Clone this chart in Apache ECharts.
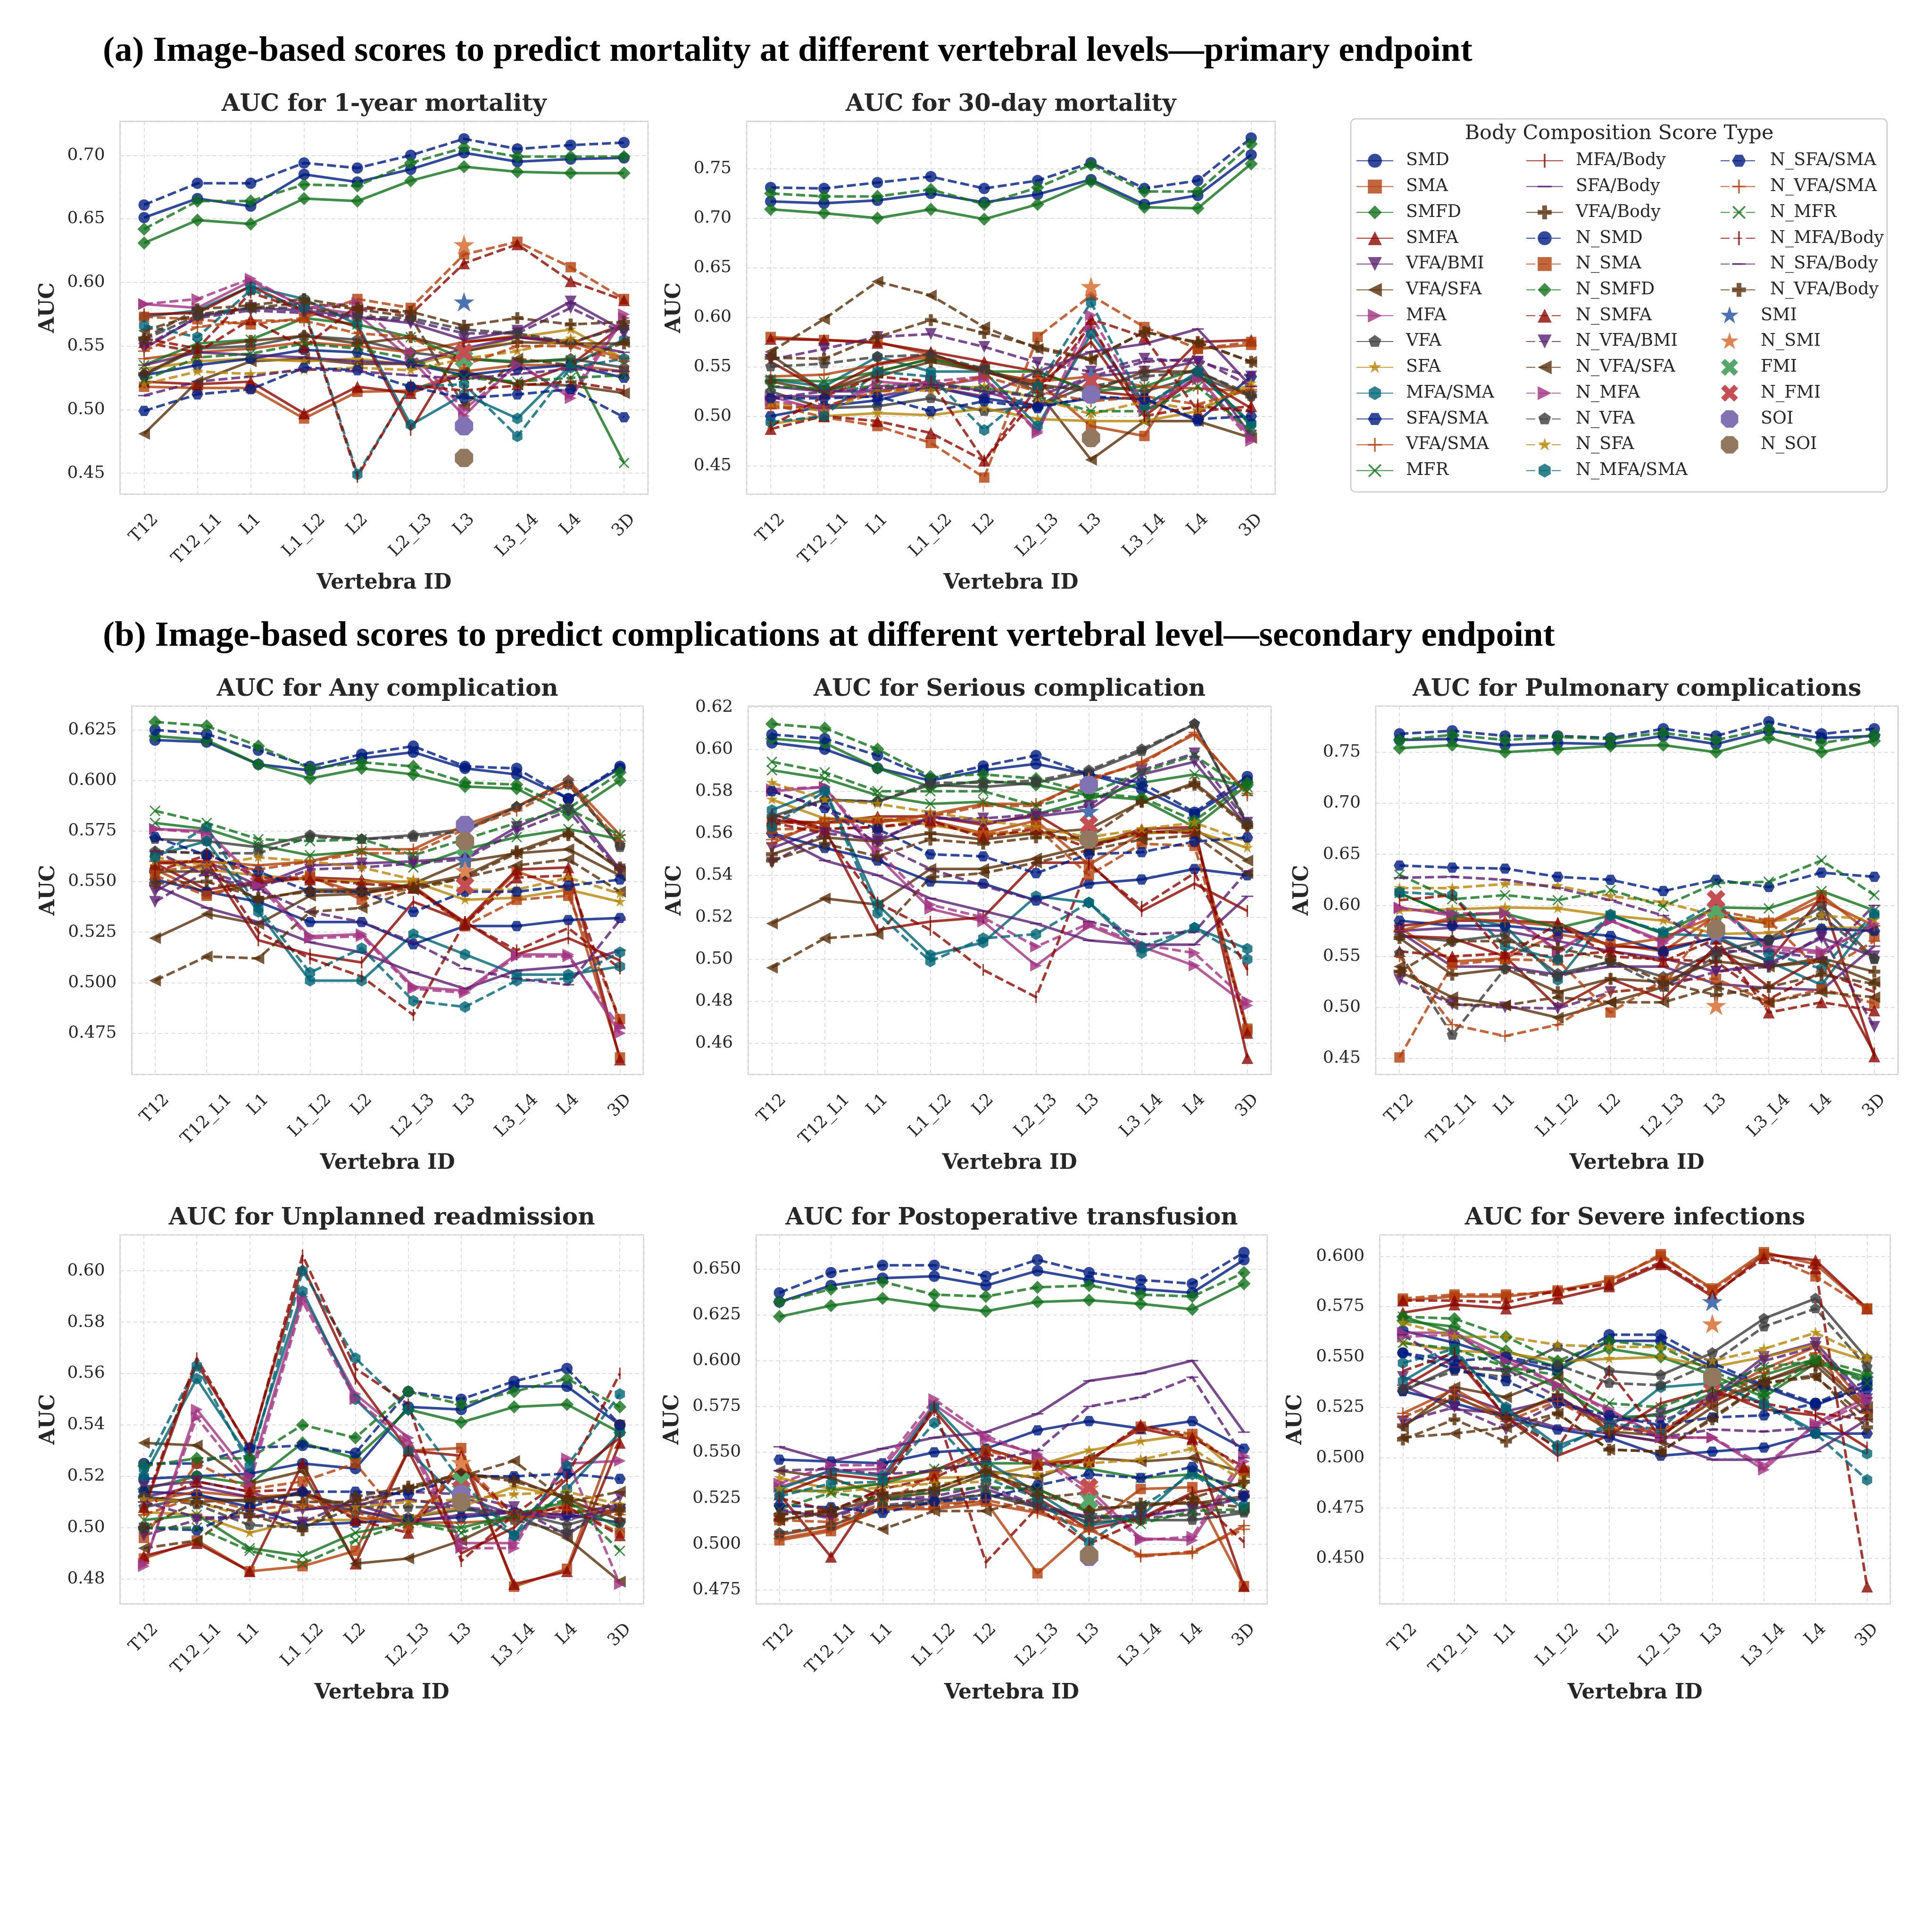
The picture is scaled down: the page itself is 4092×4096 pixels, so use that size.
<!DOCTYPE html>
<html><head><meta charset="utf-8">
<script src="https://cdn.jsdelivr.net/npm/echarts@6/dist/echarts.min.js"></script>
<style>html,body{margin:0;padding:0;background:#fff}#c{width:4092px;height:4096px}</style>
</head><body><div id="c"></div><script>
const vertebrae = ['T12','T12_L1','L1','L1_L2','L2','L2_L3','L3','L3_L4','L4','3D'];
const lineScores = ['SMD','SMA','SMFD','SMFA','VFA/BMI','VFA/SFA','MFA','VFA','SFA','MFA/SMA','SFA/SMA','VFA/SMA','MFR','MFA/Body','SFA/Body','VFA/Body',
  'N_SMD','N_SMA','N_SMFD','N_SMFA','N_VFA/BMI','N_VFA/SFA','N_MFA','N_VFA','N_SFA','N_MFA/SMA','N_SFA/SMA','N_VFA/SMA','N_MFR','N_MFA/Body','N_SFA/Body','N_VFA/Body'];
const pointScores = ['SMI','N_SMI','FMI','N_FMI','SOI','N_SOI'];
const pointLevel = 'L3';

// rows follow lineScores order, columns follow vertebrae order
const aucMort1y = [
[0.651,0.666,0.660,0.685,0.679,0.689,0.702,0.695,0.697,0.698],
[0.518,0.517,0.517,0.493,0.514,0.515,0.530,0.535,0.535,0.530],
[0.631,0.649,0.646,0.666,0.664,0.680,0.691,0.687,0.686,0.686],
[0.522,0.520,0.522,0.497,0.518,0.513,0.528,0.520,0.535,0.567],
[0.548,0.573,0.580,0.578,0.573,0.568,0.555,0.562,0.585,0.562],
[0.481,0.522,0.538,0.540,0.536,0.536,0.530,0.520,0.519,0.513],
[0.583,0.580,0.601,0.581,0.575,0.540,0.495,0.537,0.509,0.572],
[0.527,0.548,0.550,0.558,0.555,0.545,0.540,0.537,0.540,0.533],
[0.532,0.538,0.540,0.538,0.540,0.535,0.545,0.557,0.563,0.540],
[0.573,0.578,0.597,0.587,0.567,0.488,0.512,0.493,0.535,0.555],
[0.527,0.535,0.540,0.547,0.545,0.536,0.527,0.532,0.535,0.525],
[0.540,0.545,0.548,0.553,0.550,0.545,0.553,0.558,0.553,0.540],
[0.535,0.552,0.555,0.572,0.567,0.557,0.540,0.538,0.539,0.458],
[0.575,0.576,0.597,0.578,0.565,0.484,0.553,0.557,0.552,0.567],
[0.535,0.545,0.543,0.541,0.538,0.536,0.548,0.557,0.553,0.545],
[0.528,0.549,0.554,0.558,0.552,0.557,0.546,0.553,0.552,0.552],
[0.661,0.678,0.678,0.694,0.690,0.700,0.713,0.705,0.708,0.710],
[0.573,0.571,0.567,0.572,0.587,0.580,0.622,0.632,0.612,0.587],
[0.642,0.664,0.664,0.677,0.676,0.694,0.706,0.699,0.699,0.699],
[0.553,0.545,0.571,0.549,0.582,0.575,0.615,0.630,0.601,0.586],
[0.550,0.572,0.578,0.576,0.572,0.570,0.560,0.560,0.580,0.560],
[0.562,0.575,0.580,0.584,0.579,0.573,0.503,0.540,0.535,0.553],
[0.583,0.587,0.603,0.580,0.584,0.545,0.500,0.535,0.512,0.575],
[0.555,0.574,0.580,0.580,0.573,0.572,0.563,0.560,0.553,0.565],
[0.520,0.530,0.528,0.531,0.533,0.531,0.540,0.546,0.556,0.540],
[0.566,0.557,0.594,0.580,0.449,0.518,0.520,0.479,0.533,0.540],
[0.499,0.512,0.516,0.533,0.531,0.518,0.509,0.512,0.516,0.494],
[0.546,0.565,0.570,0.570,0.560,0.557,0.535,0.550,0.550,0.538],
[0.523,0.541,0.544,0.552,0.548,0.540,0.525,0.522,0.525,0.527],
[0.556,0.548,0.592,0.578,0.447,0.519,0.515,0.519,0.522,0.515],
[0.511,0.522,0.526,0.532,0.530,0.527,0.524,0.528,0.532,0.530],
[0.556,0.579,0.582,0.587,0.580,0.577,0.566,0.572,0.567,0.569]];
const ptMort1y = [0.584,0.629,0.540,0.545,0.487,0.462];

const aucMort30d = [
[0.717,0.715,0.718,0.725,0.716,0.724,0.739,0.714,0.723,0.764],
[0.580,0.577,0.575,0.562,0.545,0.535,0.490,0.480,0.568,0.572],
[0.709,0.705,0.700,0.709,0.699,0.714,0.737,0.711,0.710,0.755],
[0.578,0.577,0.574,0.565,0.555,0.545,0.525,0.520,0.575,0.577],
[0.530,0.525,0.525,0.535,0.525,0.510,0.540,0.545,0.555,0.480],
[0.562,0.525,0.545,0.558,0.548,0.525,0.456,0.495,0.495,0.478],
[0.520,0.505,0.535,0.530,0.538,0.485,0.590,0.505,0.540,0.478],
[0.525,0.508,0.510,0.518,0.505,0.510,0.532,0.525,0.540,0.520],
[0.492,0.500,0.503,0.501,0.508,0.497,0.495,0.495,0.505,0.530],
[0.537,0.530,0.560,0.545,0.545,0.490,0.583,0.510,0.543,0.493],
[0.500,0.510,0.516,0.530,0.518,0.510,0.518,0.518,0.495,0.540],
[0.540,0.542,0.552,0.560,0.545,0.535,0.540,0.530,0.528,0.525],
[0.537,0.535,0.545,0.558,0.545,0.545,0.525,0.530,0.548,0.490],
[0.555,0.525,0.553,0.563,0.545,0.530,0.575,0.500,0.540,0.508],
[0.520,0.520,0.520,0.530,0.520,0.545,0.565,0.573,0.588,0.530],
[0.535,0.525,0.540,0.555,0.545,0.532,0.525,0.545,0.545,0.520],
[0.731,0.730,0.736,0.742,0.730,0.738,0.756,0.730,0.738,0.781],
[0.512,0.499,0.490,0.473,0.438,0.580,0.622,0.590,0.568,0.575],
[0.725,0.722,0.722,0.729,0.714,0.731,0.754,0.727,0.727,0.775],
[0.487,0.500,0.495,0.483,0.455,0.530,0.598,0.580,0.505,0.510],
[0.557,0.568,0.580,0.583,0.570,0.554,0.545,0.558,0.555,0.540],
[0.565,0.598,0.636,0.622,0.590,0.568,0.557,0.585,0.574,0.555],
[0.515,0.508,0.530,0.535,0.540,0.483,0.602,0.510,0.537,0.475],
[0.550,0.553,0.560,0.562,0.548,0.528,0.530,0.540,0.545,0.522],
[0.513,0.505,0.525,0.526,0.530,0.518,0.502,0.515,0.506,0.533],
[0.494,0.500,0.545,0.540,0.486,0.530,0.615,0.510,0.545,0.492],
[0.518,0.518,0.520,0.505,0.515,0.508,0.520,0.517,0.497,0.500],
[0.508,0.510,0.525,0.530,0.540,0.525,0.515,0.520,0.512,0.527],
[0.530,0.528,0.530,0.532,0.528,0.520,0.505,0.505,0.530,0.485],
[0.490,0.520,0.540,0.535,0.455,0.520,0.593,0.500,0.510,0.505],
[0.518,0.525,0.528,0.532,0.525,0.520,0.540,0.555,0.558,0.530],
[0.559,0.558,0.580,0.597,0.584,0.570,0.558,0.585,0.575,0.555]];
const ptMort30d = [0.540,0.630,0.525,0.535,0.522,0.478];

const aucAnyComp = [
[0.620,0.619,0.608,0.605,0.611,0.614,0.606,0.603,0.591,0.606],
[0.556,0.544,0.549,0.552,0.544,0.548,0.529,0.555,0.546,0.463],
[0.622,0.620,0.608,0.601,0.606,0.603,0.597,0.596,0.583,0.600],
[0.559,0.546,0.550,0.552,0.551,0.547,0.530,0.556,0.557,0.462],
[0.545,0.560,0.548,0.558,0.559,0.560,0.562,0.577,0.588,0.556],
[0.522,0.534,0.529,0.543,0.544,0.549,0.560,0.564,0.566,0.553],
[0.576,0.575,0.550,0.523,0.524,0.498,0.496,0.514,0.514,0.475],
[0.571,0.570,0.567,0.573,0.571,0.573,0.576,0.587,0.600,0.567],
[0.560,0.556,0.553,0.551,0.550,0.550,0.541,0.542,0.546,0.540],
[0.563,0.570,0.535,0.501,0.501,0.524,0.514,0.504,0.504,0.508],
[0.551,0.545,0.540,0.530,0.530,0.519,0.528,0.528,0.531,0.532],
[0.560,0.560,0.558,0.560,0.566,0.566,0.578,0.587,0.600,0.573],
[0.579,0.576,0.568,0.563,0.565,0.557,0.566,0.572,0.576,0.571],
[0.559,0.560,0.521,0.514,0.510,0.540,0.530,0.514,0.522,0.511],
[0.548,0.537,0.530,0.520,0.515,0.505,0.497,0.506,0.508,0.516],
[0.555,0.555,0.541,0.546,0.546,0.548,0.553,0.565,0.574,0.556],
[0.625,0.623,0.615,0.607,0.613,0.617,0.607,0.606,0.591,0.607],
[0.553,0.543,0.550,0.553,0.541,0.547,0.528,0.541,0.543,0.482],
[0.629,0.627,0.617,0.606,0.609,0.607,0.599,0.598,0.586,0.604],
[0.565,0.564,0.552,0.551,0.549,0.547,0.529,0.552,0.553,0.480],
[0.540,0.555,0.547,0.556,0.557,0.559,0.561,0.575,0.585,0.555],
[0.501,0.513,0.512,0.535,0.537,0.546,0.552,0.558,0.561,0.545],
[0.576,0.574,0.548,0.522,0.523,0.497,0.495,0.513,0.513,0.478],
[0.565,0.564,0.564,0.572,0.571,0.572,0.575,0.587,0.598,0.568],
[0.562,0.558,0.562,0.560,0.557,0.551,0.546,0.546,0.552,0.544],
[0.562,0.577,0.537,0.505,0.517,0.491,0.488,0.501,0.502,0.515],
[0.572,0.563,0.555,0.545,0.545,0.535,0.545,0.545,0.548,0.551],
[0.555,0.558,0.556,0.560,0.564,0.564,0.576,0.585,0.598,0.570],
[0.585,0.579,0.571,0.570,0.571,0.563,0.571,0.579,0.586,0.573],
[0.555,0.563,0.525,0.512,0.503,0.484,0.530,0.516,0.527,0.507],
[0.565,0.553,0.546,0.535,0.530,0.520,0.507,0.502,0.499,0.531],
[0.549,0.550,0.542,0.545,0.545,0.547,0.552,0.564,0.573,0.557]];
const ptAnyComp = [0.560,0.555,0.567,0.548,0.578,0.570];

const aucSeriousComp = [
[0.603,0.600,0.591,0.585,0.590,0.593,0.588,0.581,0.569,0.585],
[0.565,0.565,0.566,0.566,0.560,0.566,0.545,0.560,0.561,0.467],
[0.605,0.603,0.591,0.582,0.585,0.583,0.578,0.576,0.563,0.583],
[0.566,0.565,0.568,0.568,0.564,0.569,0.554,0.562,0.563,0.453],
[0.553,0.562,0.556,0.568,0.565,0.568,0.571,0.588,0.594,0.563],
[0.517,0.529,0.526,0.543,0.543,0.548,0.554,0.560,0.562,0.547],
[0.580,0.582,0.549,0.524,0.518,0.497,0.516,0.506,0.497,0.478],
[0.568,0.576,0.575,0.583,0.582,0.584,0.589,0.599,0.612,0.564],
[0.576,0.567,0.567,0.564,0.560,0.560,0.556,0.560,0.561,0.553],
[0.571,0.581,0.526,0.502,0.508,0.530,0.527,0.503,0.515,0.505],
[0.560,0.553,0.547,0.537,0.536,0.528,0.536,0.538,0.543,0.540],
[0.555,0.567,0.565,0.569,0.574,0.574,0.585,0.594,0.607,0.579],
[0.590,0.586,0.578,0.574,0.575,0.569,0.576,0.584,0.588,0.582],
[0.569,0.562,0.514,0.518,0.520,0.546,0.546,0.523,0.536,0.523],
[0.560,0.547,0.540,0.529,0.523,0.517,0.509,0.507,0.507,0.530],
[0.550,0.558,0.556,0.560,0.557,0.560,0.562,0.575,0.584,0.564],
[0.607,0.605,0.597,0.586,0.592,0.597,0.588,0.584,0.570,0.587],
[0.562,0.562,0.563,0.565,0.559,0.563,0.540,0.555,0.554,0.466],
[0.612,0.610,0.600,0.587,0.588,0.586,0.579,0.577,0.566,0.584],
[0.567,0.562,0.563,0.566,0.558,0.562,0.553,0.561,0.560,0.465],
[0.546,0.560,0.557,0.567,0.567,0.569,0.573,0.590,0.598,0.565],
[0.496,0.510,0.512,0.539,0.541,0.546,0.552,0.557,0.559,0.541],
[0.581,0.582,0.552,0.526,0.520,0.506,0.517,0.507,0.503,0.480],
[0.567,0.576,0.575,0.584,0.584,0.585,0.590,0.600,0.612,0.565],
[0.584,0.576,0.574,0.570,0.566,0.563,0.558,0.562,0.565,0.556],
[0.563,0.580,0.522,0.499,0.510,0.512,0.527,0.506,0.515,0.500],
[0.580,0.572,0.562,0.550,0.549,0.541,0.550,0.551,0.556,0.558],
[0.557,0.565,0.566,0.568,0.573,0.573,0.586,0.593,0.608,0.578],
[0.594,0.589,0.580,0.580,0.580,0.573,0.579,0.589,0.597,0.580],
[0.565,0.560,0.527,0.514,0.495,0.482,0.545,0.525,0.541,0.495],
[0.580,0.572,0.555,0.543,0.535,0.528,0.518,0.512,0.513,0.542],
[0.547,0.555,0.549,0.557,0.555,0.558,0.558,0.575,0.583,0.563]];
const ptSeriousComp = [0.570,0.584,0.558,0.564,0.583,0.557];

const aucPulmComp = [
[0.762,0.763,0.757,0.759,0.758,0.766,0.758,0.771,0.764,0.766],
[0.578,0.545,0.548,0.572,0.562,0.555,0.590,0.583,0.610,0.570],
[0.754,0.757,0.750,0.753,0.756,0.757,0.750,0.764,0.750,0.761],
[0.580,0.585,0.585,0.583,0.560,0.558,0.568,0.545,0.608,0.452],
[0.575,0.578,0.575,0.565,0.555,0.548,0.535,0.543,0.568,0.550],
[0.535,0.510,0.502,0.490,0.505,0.520,0.555,0.540,0.545,0.525],
[0.598,0.590,0.593,0.556,0.585,0.565,0.600,0.560,0.555,0.580],
[0.570,0.565,0.571,0.533,0.545,0.530,0.555,0.567,0.599,0.548],
[0.595,0.596,0.598,0.597,0.590,0.585,0.572,0.573,0.578,0.578],
[0.612,0.590,0.580,0.527,0.591,0.572,0.570,0.545,0.522,0.590],
[0.585,0.580,0.580,0.575,0.570,0.555,0.569,0.566,0.577,0.575],
[0.575,0.588,0.584,0.580,0.560,0.568,0.590,0.582,0.605,0.580],
[0.612,0.590,0.592,0.578,0.590,0.573,0.598,0.597,0.614,0.595],
[0.570,0.568,0.550,0.500,0.528,0.508,0.560,0.520,0.550,0.455],
[0.574,0.540,0.540,0.532,0.540,0.540,0.523,0.519,0.517,0.560],
[0.568,0.532,0.538,0.515,0.528,0.525,0.545,0.540,0.548,0.535],
[0.768,0.771,0.766,0.766,0.764,0.773,0.766,0.780,0.768,0.773],
[0.451,0.542,0.547,0.546,0.495,0.527,0.528,0.505,0.518,0.504],
[0.762,0.767,0.762,0.765,0.763,0.769,0.762,0.773,0.759,0.767],
[0.555,0.550,0.553,0.550,0.555,0.545,0.567,0.495,0.505,0.497],
[0.527,0.503,0.500,0.499,0.515,0.520,0.535,0.540,0.570,0.481],
[0.540,0.503,0.502,0.510,0.505,0.505,0.520,0.505,0.515,0.510],
[0.597,0.592,0.592,0.555,0.585,0.563,0.598,0.557,0.553,0.582],
[0.553,0.473,0.538,0.530,0.545,0.520,0.550,0.565,0.590,0.547],
[0.617,0.617,0.621,0.619,0.609,0.603,0.590,0.584,0.590,0.586],
[0.613,0.610,0.560,0.547,0.590,0.574,0.603,0.553,0.538,0.592],
[0.639,0.637,0.636,0.628,0.625,0.614,0.625,0.618,0.632,0.628],
[0.550,0.483,0.472,0.483,0.515,0.520,0.595,0.585,0.535,0.565],
[0.630,0.606,0.610,0.605,0.615,0.599,0.622,0.623,0.644,0.610],
[0.605,0.610,0.550,0.582,0.550,0.547,0.545,0.508,0.535,0.515],
[0.627,0.628,0.625,0.617,0.605,0.590,0.555,0.555,0.548,0.600],
[0.535,0.565,0.565,0.558,0.547,0.525,0.512,0.520,0.532,0.523]];
const ptPulmComp = [0.570,0.501,0.595,0.606,0.575,0.577];

const aucReadmission = [
[0.519,0.520,0.521,0.525,0.523,0.547,0.546,0.555,0.555,0.540],
[0.488,0.495,0.483,0.485,0.491,0.530,0.531,0.477,0.484,0.540],
[0.515,0.520,0.517,0.533,0.527,0.546,0.541,0.547,0.548,0.537],
[0.489,0.494,0.483,0.525,0.486,0.530,0.528,0.478,0.483,0.533],
[0.516,0.518,0.514,0.507,0.509,0.503,0.512,0.505,0.504,0.507],
[0.533,0.532,0.517,0.522,0.486,0.488,0.495,0.505,0.496,0.479],
[0.485,0.546,0.520,0.590,0.552,0.535,0.494,0.494,0.525,0.526],
[0.508,0.512,0.510,0.514,0.506,0.504,0.507,0.506,0.501,0.507],
[0.506,0.505,0.498,0.503,0.503,0.504,0.508,0.516,0.512,0.507],
[0.520,0.558,0.527,0.592,0.550,0.530,0.510,0.497,0.515,0.537],
[0.514,0.513,0.508,0.501,0.502,0.503,0.504,0.506,0.505,0.502],
[0.510,0.514,0.512,0.513,0.504,0.502,0.502,0.503,0.509,0.506],
[0.503,0.505,0.492,0.489,0.498,0.502,0.500,0.505,0.510,0.500],
[0.507,0.564,0.531,0.602,0.558,0.530,0.490,0.500,0.519,0.535],
[0.512,0.516,0.512,0.508,0.507,0.502,0.505,0.506,0.505,0.509],
[0.512,0.510,0.511,0.513,0.508,0.515,0.521,0.519,0.511,0.503],
[0.525,0.525,0.531,0.532,0.529,0.553,0.550,0.557,0.562,0.540],
[0.496,0.525,0.515,0.518,0.525,0.500,0.526,0.505,0.508,0.498],
[0.524,0.527,0.527,0.540,0.535,0.553,0.548,0.553,0.558,0.547],
[0.508,0.518,0.514,0.515,0.503,0.498,0.524,0.505,0.508,0.497],
[0.497,0.503,0.505,0.502,0.511,0.514,0.513,0.508,0.497,0.512],
[0.492,0.495,0.510,0.510,0.510,0.515,0.520,0.526,0.510,0.514],
[0.486,0.543,0.517,0.588,0.550,0.533,0.492,0.492,0.527,0.478],
[0.512,0.509,0.501,0.500,0.508,0.508,0.508,0.503,0.498,0.508],
[0.511,0.510,0.504,0.508,0.508,0.510,0.511,0.513,0.514,0.509],
[0.523,0.563,0.524,0.600,0.566,0.546,0.518,0.497,0.524,0.552],
[0.500,0.499,0.508,0.514,0.514,0.513,0.520,0.520,0.521,0.519],
[0.505,0.512,0.507,0.509,0.506,0.500,0.525,0.503,0.507,0.505],
[0.500,0.500,0.491,0.486,0.495,0.502,0.498,0.505,0.511,0.491],
[0.508,0.566,0.530,0.606,0.562,0.548,0.487,0.505,0.520,0.560],
[0.510,0.504,0.504,0.507,0.509,0.511,0.508,0.506,0.503,0.508],
[0.500,0.510,0.505,0.499,0.512,0.516,0.521,0.518,0.512,0.507]];
const ptReadmission = [0.516,0.525,0.518,0.515,0.513,0.510];

const aucTransfusion = [
[0.632,0.641,0.645,0.646,0.641,0.649,0.644,0.639,0.637,0.655],
[0.502,0.507,0.520,0.522,0.523,0.484,0.509,0.530,0.531,0.477],
[0.624,0.630,0.634,0.630,0.627,0.632,0.633,0.631,0.628,0.642],
[0.527,0.493,0.535,0.540,0.552,0.544,0.546,0.563,0.557,0.477],
[0.518,0.515,0.525,0.524,0.530,0.520,0.515,0.515,0.519,0.525],
[0.540,0.536,0.526,0.530,0.540,0.536,0.547,0.545,0.547,0.539],
[0.531,0.540,0.541,0.576,0.557,0.549,0.530,0.503,0.502,0.545],
[0.505,0.510,0.520,0.523,0.527,0.520,0.512,0.513,0.513,0.517],
[0.536,0.530,0.533,0.536,0.537,0.543,0.551,0.556,0.560,0.536],
[0.530,0.540,0.537,0.575,0.545,0.528,0.510,0.515,0.540,0.519],
[0.546,0.545,0.544,0.550,0.552,0.562,0.567,0.563,0.567,0.552],
[0.503,0.508,0.519,0.519,0.522,0.517,0.508,0.494,0.495,0.510],
[0.529,0.529,0.533,0.541,0.544,0.544,0.541,0.536,0.538,0.531],
[0.527,0.538,0.535,0.573,0.540,0.525,0.508,0.514,0.528,0.533],
[0.553,0.545,0.552,0.558,0.561,0.571,0.589,0.593,0.600,0.561],
[0.513,0.518,0.525,0.528,0.538,0.530,0.518,0.522,0.522,0.526],
[0.637,0.648,0.652,0.652,0.646,0.655,0.648,0.644,0.642,0.659],
[0.513,0.512,0.522,0.538,0.551,0.544,0.545,0.564,0.560,0.540],
[0.632,0.639,0.643,0.636,0.635,0.640,0.641,0.636,0.635,0.648],
[0.516,0.518,0.530,0.536,0.549,0.543,0.545,0.565,0.558,0.542],
[0.519,0.514,0.524,0.526,0.532,0.521,0.514,0.516,0.519,0.526],
[0.513,0.517,0.508,0.518,0.518,0.525,0.528,0.521,0.523,0.520],
[0.533,0.543,0.543,0.579,0.559,0.548,0.527,0.502,0.504,0.548],
[0.506,0.510,0.521,0.524,0.527,0.522,0.514,0.514,0.516,0.518],
[0.530,0.528,0.531,0.533,0.534,0.538,0.544,0.546,0.552,0.534],
[0.526,0.533,0.534,0.566,0.536,0.525,0.501,0.520,0.538,0.521],
[0.521,0.520,0.517,0.523,0.525,0.532,0.538,0.536,0.542,0.526],
[0.505,0.510,0.520,0.520,0.524,0.518,0.509,0.493,0.496,0.508],
[0.519,0.528,0.524,0.529,0.531,0.530,0.517,0.511,0.518,0.519],
[0.525,0.518,0.530,0.575,0.490,0.520,0.500,0.513,0.527,0.501],
[0.540,0.541,0.538,0.540,0.545,0.551,0.575,0.580,0.591,0.547],
[0.516,0.519,0.527,0.530,0.540,0.527,0.520,0.520,0.525,0.534]];
const ptTransfusion = [0.526,0.530,0.524,0.531,0.493,0.494];

const aucInfection = [
[0.563,0.557,0.549,0.543,0.558,0.558,0.545,0.535,0.526,0.536],
[0.578,0.580,0.580,0.583,0.588,0.600,0.584,0.602,0.596,0.574],
[0.568,0.565,0.553,0.545,0.554,0.550,0.541,0.530,0.547,0.540],
[0.572,0.576,0.574,0.579,0.585,0.596,0.580,0.601,0.598,0.574],
[0.540,0.532,0.523,0.529,0.518,0.522,0.530,0.550,0.557,0.529],
[0.515,0.535,0.530,0.540,0.512,0.508,0.525,0.538,0.548,0.525],
[0.562,0.562,0.550,0.536,0.524,0.510,0.510,0.494,0.517,0.530],
[0.533,0.545,0.543,0.555,0.543,0.541,0.552,0.569,0.579,0.549],
[0.557,0.553,0.552,0.548,0.549,0.550,0.545,0.550,0.556,0.548],
[0.538,0.553,0.525,0.506,0.515,0.535,0.537,0.527,0.513,0.502],
[0.533,0.527,0.520,0.514,0.510,0.501,0.503,0.505,0.512,0.512],
[0.522,0.534,0.520,0.530,0.516,0.512,0.530,0.544,0.555,0.525],
[0.570,0.562,0.545,0.535,0.520,0.521,0.532,0.541,0.549,0.538],
[0.535,0.550,0.520,0.501,0.511,0.527,0.534,0.524,0.521,0.505],
[0.536,0.524,0.522,0.515,0.512,0.508,0.499,0.499,0.503,0.519],
[0.516,0.530,0.520,0.531,0.513,0.511,0.528,0.538,0.546,0.523],
[0.552,0.548,0.550,0.545,0.561,0.561,0.547,0.536,0.527,0.538],
[0.579,0.581,0.581,0.582,0.587,0.601,0.583,0.601,0.590,0.574],
[0.570,0.569,0.560,0.548,0.558,0.555,0.543,0.532,0.549,0.542],
[0.578,0.578,0.577,0.583,0.586,0.597,0.581,0.599,0.594,0.436],
[0.518,0.525,0.514,0.527,0.519,0.518,0.528,0.548,0.555,0.527],
[0.510,0.512,0.515,0.522,0.504,0.503,0.520,0.537,0.540,0.520],
[0.560,0.561,0.548,0.536,0.523,0.510,0.510,0.496,0.516,0.528],
[0.534,0.543,0.540,0.546,0.537,0.536,0.547,0.565,0.574,0.545],
[0.567,0.560,0.560,0.556,0.555,0.555,0.548,0.554,0.562,0.550],
[0.547,0.554,0.524,0.504,0.517,0.514,0.538,0.526,0.512,0.489],
[0.552,0.544,0.538,0.527,0.521,0.516,0.520,0.521,0.527,0.534],
[0.520,0.531,0.518,0.528,0.514,0.514,0.527,0.542,0.552,0.522],
[0.557,0.554,0.545,0.541,0.527,0.525,0.535,0.545,0.548,0.537],
[0.543,0.552,0.520,0.505,0.543,0.510,0.532,0.527,0.522,0.519],
[0.561,0.545,0.544,0.530,0.517,0.510,0.514,0.513,0.515,0.524],
[0.509,0.519,0.508,0.522,0.504,0.503,0.519,0.537,0.541,0.515]];
const ptInfection = [0.577,0.566,0.540,0.538,0.540,0.540];

// ---------- styling / layout ----------
const dark = ['#001c7f','#b1400d','#12711c','#8c0800','#591e71','#592f0d','#a23582','#3c3c3c','#b8850a','#006374'];
const deep = ['#4c72b0','#dd8452','#55a868','#c44e52','#8172b3','#937860'];
const TXT = '#262626';
const SERIF = 'DejaVu Serif';

const CORNERS = 'M0,0L0.001,0L0,0.001ZM2,2L1.999,2L2,1.999Z';
const P = s => 'path://' + CORNERS + s;
const STAR = 'M1,0L1.2245,0.691L1.951,0.691L1.3633,1.118L1.5878,1.809L1,1.382L0.4122,1.809L0.6367,1.118L0.049,0.691L0.7755,0.691Z';
const PLUS_THIN = 'M0.88,0H1.12V0.88H2V1.12H1.12V2H0.88V1.12H0V0.88H0.88Z';
const X_THIN = 'M0.05,0.22L0.22,0.05L1,0.83L1.78,0.05L1.95,0.22L1.17,1L1.95,1.78L1.78,1.95L1,1.17L0.22,1.95L0.05,1.78L0.83,1Z';
const PLUS_THICK = 'M0.66,0H1.34V0.66H2V1.34H1.34V2H0.66V1.34H0V0.66H0.66Z';
const X_THICK = 'M0.1,0.52L0.52,0.1L1,0.58L1.48,0.1L1.9,0.52L1.42,1L1.9,1.48L1.48,1.9L1,1.42L0.52,1.9L0.1,1.48L0.58,1Z';
const OCT = 'M1.924,1.383L1.383,1.924L0.617,1.924L0.076,1.383L0.076,0.617L0.617,0.076L1.383,0.076L1.924,0.617Z';
const SYM = [
  {s:'circle', z:24},
  {s:'rect', z:22},
  {s:'diamond', z:28},
  {s:'triangle', z:25},
  {s:'triangle', z:25, r:180},
  {s:'triangle', z:25, r:90},
  {s:'triangle', z:25, r:-90},
  {s:P('M1,0.05L1.903,0.706L1.558,1.769L0.442,1.769L0.097,0.706Z'), z:26},
  {s:P(STAR), z:26},
  {s:P('M1,0L1.866,0.5L1.866,1.5L1,2L0.134,1.5L0.134,0.5Z'), z:25},
  {s:P('M2,1L1.5,1.866L0.5,1.866L0,1L0.5,0.134L1.5,0.134Z'), z:25},
  {s:P(PLUS_THIN), z:25},
  {s:P(X_THIN), z:24},
  {s:P('M0.88,0H1.12V2H0.88Z'), z:25},
  {s:P('M0,0.88H2V1.12H0Z'), z:25},
  {s:P(PLUS_THICK), z:25}
];
const PSYM = [
  {s:P(STAR), z:46},
  {s:P(STAR), z:46},
  {s:P(X_THICK), z:44},
  {s:P(X_THICK), z:44},
  {s:P(OCT), z:42},
  {s:P(OCT), z:42}
];

const panels = [
  {title:'AUC for 1-year mortality', data:aucMort1y, pts:ptMort1y, left:254.6, top:257.3, width:1119.3, height:790.4, min:0.4335, max:0.7267, step:0.05, dec:2, gap:130},
  {title:'AUC for 30-day mortality', data:aucMort30d, pts:ptMort30d, left:1583, top:257.3, width:1120.7, height:790.4, min:0.4212, max:0.7978, step:0.05, dec:2, gap:130},
  {title:'AUC for Any complication', data:aucAnyComp, pts:ptAnyComp, left:279.4, top:1497, width:1084.4, height:781, min:0.4546, max:0.6368, step:0.025, dec:3, gap:154},
  {title:'AUC for Serious complication', data:aucSeriousComp, pts:ptSeriousComp, left:1586.2, top:1497, width:1108.8, height:781, min:0.4452, max:0.6205, step:0.02, dec:2, gap:133},
  {title:'AUC for Pulmonary complications', data:aucPulmComp, pts:ptPulmComp, left:2916.9, top:1497, width:1107.4, height:781, min:0.4343, max:0.7952, step:0.05, dec:2, gap:133},
  {title:'AUC for Unplanned readmission', data:aucReadmission, pts:ptReadmission, left:254.6, top:2618, width:1110.1, height:782.5, min:0.4703, max:0.6140, step:0.02, dec:2, gap:129},
  {title:'AUC for Postoperative transfusion', data:aucTransfusion, pts:ptTransfusion, left:1603.2, top:2618, width:1083.5, height:782.5, min:0.4673, max:0.6686, step:0.025, dec:3, gap:155},
  {title:'AUC for Severe infections', data:aucInfection, pts:ptInfection, left:2925.2, top:2618, width:1082.6, height:782.5, min:0.4274, max:0.6106, step:0.025, dec:3, gap:156}
];

// rotated, centred tick labels (matplotlib rotation=45, ha='center')
const XFS = 36;
const mctx = document.createElement('canvas').getContext('2d');
mctx.font = XFS + 'px "' + SERIF + '"';
const xRich = {};
vertebrae.forEach((v, i) => {
  const p = Math.round(mctx.measureText(v).width * 0.5);
  xRich['l' + i] = {padding:[p, p, 0, 0], fontFamily:SERIF, fontSize:XFS, color:TXT};
});

const grids = [], xAxes = [], yAxes = [], series = [], graphics = [];
const splitStyle = {lineStyle:{color:'#dcdcdc', width:2, type:[8,6]}};
panels.forEach((pn, p) => {
  grids.push({left:pn.left, top:pn.top, width:pn.width, height:pn.height, show:true, borderColor:'#cccccc', borderWidth:2.6, backgroundColor:'transparent', containLabel:false});
  xAxes.push({gridIndex:p, type:'value', min:-0.45, max:vertebrae.length - 1 + 0.45, minInterval:1, maxInterval:1,
    axisLine:{show:false}, axisTick:{show:false}, splitLine:splitStyle,
    axisLabel:{rotate:45, align:'center', verticalAlign:'middle', margin:48, rich:xRich,
      formatter: v => (Number.isInteger(v) && v >= 0 && v < vertebrae.length) ? '{l' + v + '|' + vertebrae[v] + '}' : ''},
    name:'Vertebra ID', nameLocation:'middle', nameGap:167,
    nameTextStyle:{fontFamily:SERIF, fontWeight:'bold', fontSize:44, color:TXT}});
  yAxes.push({gridIndex:p, type:'value', min:pn.min, max:pn.max, minInterval:pn.step, maxInterval:pn.step,
    axisLine:{show:false}, axisTick:{show:false}, splitLine:splitStyle,
    axisLabel:{margin:32, fontFamily:SERIF, fontSize:36, color:TXT,
      formatter: v => { const k = v / pn.step; return Math.abs(k - Math.round(k)) < 1e-6 ? v.toFixed(pn.dec) : ''; }},
    name:'AUC', nameLocation:'middle', nameGap:pn.gap,
    nameTextStyle:{fontFamily:SERIF, fontWeight:'bold', fontSize:44, color:TXT}});
  pn.data.forEach((vals, i) => {
    const b = i % 16, col = dark[b % 10], sy = SYM[b];
    series.push({type:'line', name:lineScores[i], xAxisIndex:p, yAxisIndex:p,
      data: vals.map((v, j) => [j, v]),
      symbol:sy.s, symbolSize:sy.z, symbolRotate:sy.r || 0, showAllSymbol:true,
      lineStyle:{color:col, width:5.5, type: i >= 16 ? [19, 8] : 'solid', opacity:0.8},
      itemStyle:{color:col, opacity:0.8, borderWidth:0},
      emphasis:{disabled:true}, silent:true, z:2});
  });
  const lx = vertebrae.indexOf(pointLevel);
  pn.pts.forEach((v, k) => {
    series.push({type:'scatter', name:pointScores[k], xAxisIndex:p, yAxisIndex:p, data:[[lx, v]],
      symbol:PSYM[k].s, symbolSize:PSYM[k].z,
      itemStyle:{color:deep[k], opacity:1}, emphasis:{disabled:true}, silent:true, z:3});
  });
  graphics.push({type:'text', x:pn.left + pn.width / 2, y:pn.top - 35, silent:true,
    style:{text:pn.title, font:'bold 50px "' + SERIF + '"', fill:TXT, textAlign:'center', textVerticalAlign:'middle', align:'center', verticalAlign:'middle'}});
});

graphics.push({type:'text', x:218, y:110, silent:true,
  style:{text:'(a) Image-based scores to predict mortality at different vertebral levels\u2014primary endpoint', font:'bold 75px "Liberation Serif"', fill:'#000', textAlign:'left', textVerticalAlign:'middle', align:'left', verticalAlign:'middle'}});
graphics.push({type:'text', x:218, y:1350, silent:true,
  style:{text:'(b) Image-based scores to predict complications at different vertebral level\u2014secondary endpoint', font:'bold 75px "Liberation Serif"', fill:'#000', textAlign:'left', textVerticalAlign:'middle', align:'left', verticalAlign:'middle'}});
graphics.push({type:'rect', z:-10, silent:true, shape:{x:2864, y:252, width:1137, height:791, r:10}, style:{fill:'#ffffff', stroke:'#cccccc', lineWidth:2.6}});
graphics.push({type:'text', x:3433, y:284, silent:true,
  style:{text:'Body Composition Score Type', font:'43px "' + SERIF + '"', fill:TXT, textAlign:'center', textVerticalAlign:'middle', align:'center', verticalAlign:'middle'}});

const legendBase = {orient:'vertical', itemWidth:78, itemHeight:37, itemGap:10.74, padding:0, selectedMode:false,
  textStyle:{fontFamily:SERIF, fontSize:36.5, color:TXT, lineHeight:44, padding:[0,0,0,22]}};
const legends = [
  Object.assign({}, legendBase, {left:2875, top:318.8, data:lineScores.slice(0, 13)}),
  Object.assign({}, legendBase, {left:3235, top:318.8, data:lineScores.slice(13, 26)}),
  Object.assign({}, legendBase, {left:3647, top:318.8, data:lineScores.slice(26)}),
  Object.assign({}, legendBase, {left:3647, top:647.2, itemHeight:40, data:pointScores})
];

const chart = echarts.init(document.getElementById('c'), null, {renderer:'canvas'});
chart.setOption({
  backgroundColor:'#ffffff', animation:false,
  grid:grids, xAxis:xAxes, yAxis:yAxes, series:series, legend:legends, graphic:graphics
});
</script></body></html>
